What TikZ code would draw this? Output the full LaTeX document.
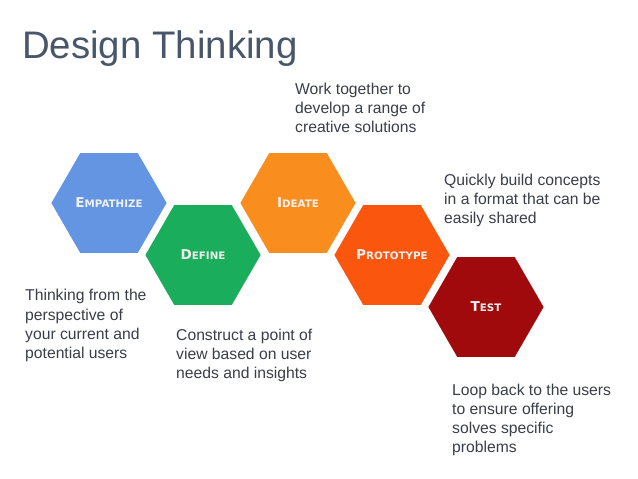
\documentclass[tikz,border=0pt]{standalone}
\usepackage{fontspec}
\usetikzlibrary{shapes.geometric}
\newfontfamily\bodyfont{Liberation Sans}
\newfontfamily\labfont{DejaVu Sans}
\definecolor{titlecol}{RGB}{72,86,106}
\definecolor{textcol}{RGB}{58,62,72}
\definecolor{empcol}{RGB}{99,149,226}
\definecolor{defcol}{RGB}{26,173,91}
\definecolor{ideacol}{RGB}{249,142,30}
\definecolor{protocol}{RGB}{251,86,14}
\definecolor{testcol}{RGB}{160,10,12}
\newcommand{\hexlab}[2]{{\fontsize{13.6}{13.6}\selectfont #1}{\fontsize{10.3}{10.3}\selectfont #2}}
\tikzset{
  hexa/.style={regular polygon, regular polygon sides=6, minimum size=119pt,
    inner sep=0pt, draw=white, line width=3pt, text=white!94!black,
    font=\labfont\bfseries},
  note/.style={anchor=base west, align=left, inner sep=0pt, text=textcol,
    font={\bodyfont\fontsize{15.7}{19}\selectfont}}
}
\begin{document}
\begin{tikzpicture}[x=1pt,y=-1pt]
\useasboundingbox[fill=white] (0,0) rectangle (638,479);
\node[anchor=base west, inner sep=0pt, text=titlecol,
  font={\bodyfont\fontsize{38.4}{38.4}\selectfont}] (title) at (22,58) {Design Thinking};
\node[hexa, fill=empcol] (emp) at (109,203) {\hexlab{E}{MPATHIZE}};
\node[hexa, fill=defcol] (def) at (203,255) {\hexlab{D}{EFINE}};
\node[hexa, fill=ideacol] (idea) at (298,203) {\hexlab{I}{DEATE}};
\node[hexa, fill=protocol] (proto) at (392,255) {\hexlab{P}{ROTOTYPE}};
\node[hexa, fill=testcol] (test) at (486,307) {\hexlab{T}{EST}};
\node[note, font={\bodyfont\fontsize{15.7}{18.6}\selectfont}] (n1) at (295,132) {Work together to\\develop a range of\\creative solutions};
\node[note] (n2) at (444,223.5) {Quickly build concepts\\in a format that can be\\easily shared};
\node[note, font={\bodyfont\fontsize{15.7}{19.3}\selectfont}] (n3) at (25,358.7) {Thinking from the\\perspective of\\your current and\\potential users};
\node[note] (n4) at (176,378.7) {Construct a point of\\view based on user\\needs and insights};
\node[note] (n5) at (452,452) {Loop back to the users\\to ensure offering\\solves specific\\problems};
\end{tikzpicture}
\end{document}
